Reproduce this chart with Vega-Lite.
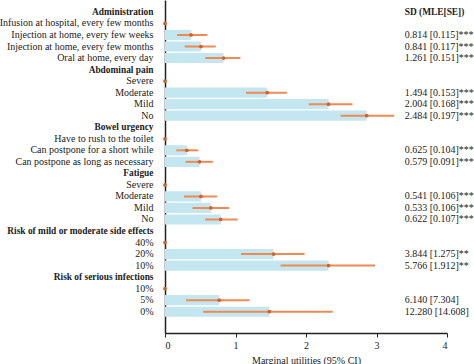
{
  "$schema": "https://vega.github.io/schema/vega-lite/v6.json",
  "autosize": {"type": "none"},
  "width": 282,
  "height": 333,
  "padding": {"left": 165, "top": 0, "right": 27, "bottom": 31},
  "config": {
    "font": "Liberation Serif",
    "view": {"stroke": null},
    "axis": {"labelFont": "Liberation Serif", "titleFont": "Liberation Serif", "grid": false, "domainColor": "#222", "tickColor": "#222", "labelColor": "#222", "titleColor": "#222"}
  },
  "data": {"values": [
    {"key": "H|Administration", "sd": "SD (MLE[SE])"},
    {"key": "A|Infusion at hospital, every few months", "est": 0, "lo": 0, "hi": 0, "sd": ""},
    {"key": "A|Injection at home, every few weeks", "est": 0.37, "lo": 0.17, "hi": 0.60, "sd": "0.814 [0.115]***"},
    {"key": "A|Injection at home, every few months", "est": 0.51, "lo": 0.28, "hi": 0.72, "sd": "0.841 [0.117]***"},
    {"key": "A|Oral at home, every day", "est": 0.83, "lo": 0.57, "hi": 1.07, "sd": "1.261 [0.151]***"},
    {"key": "H|Abdominal pain", "sd": ""},
    {"key": "P|Severe", "est": 0, "lo": 0, "hi": 0, "sd": ""},
    {"key": "P|Moderate", "est": 1.45, "lo": 1.15, "hi": 1.73, "sd": "1.494 [0.153]***"},
    {"key": "P|Mild", "est": 2.32, "lo": 2.04, "hi": 2.66, "sd": "2.004 [0.168]***"},
    {"key": "P|No", "est": 2.86, "lo": 2.49, "hi": 3.25, "sd": "2.484 [0.197]***"},
    {"key": "H|Bowel urgency", "sd": ""},
    {"key": "B|Have to rush to the toilet", "est": 0, "lo": 0, "hi": 0, "sd": ""},
    {"key": "B|Can postpone for a short while", "est": 0.31, "lo": 0.16, "hi": 0.47, "sd": "0.625 [0.104]***"},
    {"key": "B|Can postpone as long as necessary", "est": 0.49, "lo": 0.29, "hi": 0.68, "sd": "0.579 [0.091]***"},
    {"key": "H|Fatigue", "sd": ""},
    {"key": "F|Severe", "est": 0, "lo": 0, "hi": 0, "sd": ""},
    {"key": "F|Moderate", "est": 0.51, "lo": 0.27, "hi": 0.74, "sd": "0.541 [0.106]***"},
    {"key": "F|Mild", "est": 0.65, "lo": 0.39, "hi": 0.91, "sd": "0.533 [0.106]***"},
    {"key": "F|No", "est": 0.79, "lo": 0.57, "hi": 1.03, "sd": "0.622 [0.107]***"},
    {"key": "H|Risk of mild or moderate side effects", "sd": ""},
    {"key": "M|40%", "est": 0, "lo": 0, "hi": 0, "sd": ""},
    {"key": "M|20%", "est": 1.54, "lo": 1.08, "hi": 1.98, "sd": "3.844 [1.275]**"},
    {"key": "M|10%", "est": 2.32, "lo": 1.64, "hi": 2.98, "sd": "5.766 [1.912]**"},
    {"key": "H|Risk of serious infections", "sd": ""},
    {"key": "S|10%", "est": 0, "lo": 0, "hi": 0, "sd": ""},
    {"key": "S|5%", "est": 0.77, "lo": 0.30, "hi": 1.20, "sd": "6.140 [7.304]"},
    {"key": "S|0%", "est": 1.48, "lo": 0.54, "hi": 2.38, "sd": "12.280 [14.608]"}
  ]},
  "encoding": {
    "y": {
      "field": "key", "type": "nominal", "sort": null,
      "scale": {
        "domain": ["H|Administration", "A|Infusion at hospital, every few months", "A|Injection at home, every few weeks", "A|Injection at home, every few months", "A|Oral at home, every day", "H|Abdominal pain", "P|Severe", "P|Moderate", "P|Mild", "P|No", "H|Bowel urgency", "B|Have to rush to the toilet", "B|Can postpone for a short while", "B|Can postpone as long as necessary", "H|Fatigue", "F|Severe", "F|Moderate", "F|Mild", "F|No", "H|Risk of mild or moderate side effects", "M|40%", "M|20%", "M|10%", "H|Risk of serious infections", "S|10%", "S|5%", "S|0%"],
        "paddingInner": 0.12, "paddingOuter": 1.235, "align": 0.297
      },
      "axis": {
        "title": null, "ticks": false, "labelPadding": 12, "domainWidth": 1.5,
        "labelExpr": "split(datum.label, '|')[1]",
        "labelFontWeight": {"condition": {"test": "substring(datum.label, 0, 2) == 'H|'", "value": "bold"}, "value": "normal"},
        "labelFontSize": {"condition": {"test": "substring(datum.label, 0, 2) == 'H|'", "value": 9.4}, "value": 10},
        "labelLimit": 200
      }
    }
  },
  "layer": [
    {
      "transform": [{"filter": "isValid(datum.est) && datum.est > 0"}],
      "mark": {"type": "bar", "color": "#c3e6f1"},
      "encoding": {
        "x": {"field": "est", "type": "quantitative",
          "scale": {"domain": [0, 4], "nice": false},
          "axis": {"title": "Marginal utilities (95% CI)", "values": [0, 1, 2, 3, 4], "tickSize": 4, "labelFontSize": 10, "titleFontSize": 10, "titleFontWeight": "normal", "labelPadding": 3, "titlePadding": 5, "domainWidth": 1.5, "format": "d"}}
      }
    },
    {
      "transform": [{"filter": "isValid(datum.lo) && datum.hi > datum.lo"}],
      "mark": {"type": "rule", "color": "#ee8a52", "strokeWidth": 2},
      "encoding": {
        "x": {"field": "lo", "type": "quantitative"},
        "x2": {"field": "hi"}
      }
    },
    {
      "transform": [{"filter": "isValid(datum.est)"}],
      "mark": {"type": "point", "filled": true, "color": "#d4622c", "size": 14, "opacity": 1},
      "encoding": {
        "x": {"field": "est", "type": "quantitative"}
      }
    },
    {
      "transform": [{"filter": "datum.sd != '' && substring(datum.key, 0, 2) != 'H|'"}],
      "mark": {"type": "text", "align": "left", "baseline": "middle", "color": "#222", "fontSize": 10},
      "encoding": {
        "x": {"datum": 3.4, "type": "quantitative"},
        "text": {"field": "sd"}
      }
    },
    {
      "transform": [{"filter": "datum.sd != '' && substring(datum.key, 0, 2) == 'H|'"}],
      "mark": {"type": "text", "align": "left", "baseline": "middle", "color": "#222", "fontSize": 9.4, "fontWeight": "bold"},
      "encoding": {
        "x": {"datum": 3.4, "type": "quantitative"},
        "text": {"field": "sd"}
      }
    }
  ]
}
